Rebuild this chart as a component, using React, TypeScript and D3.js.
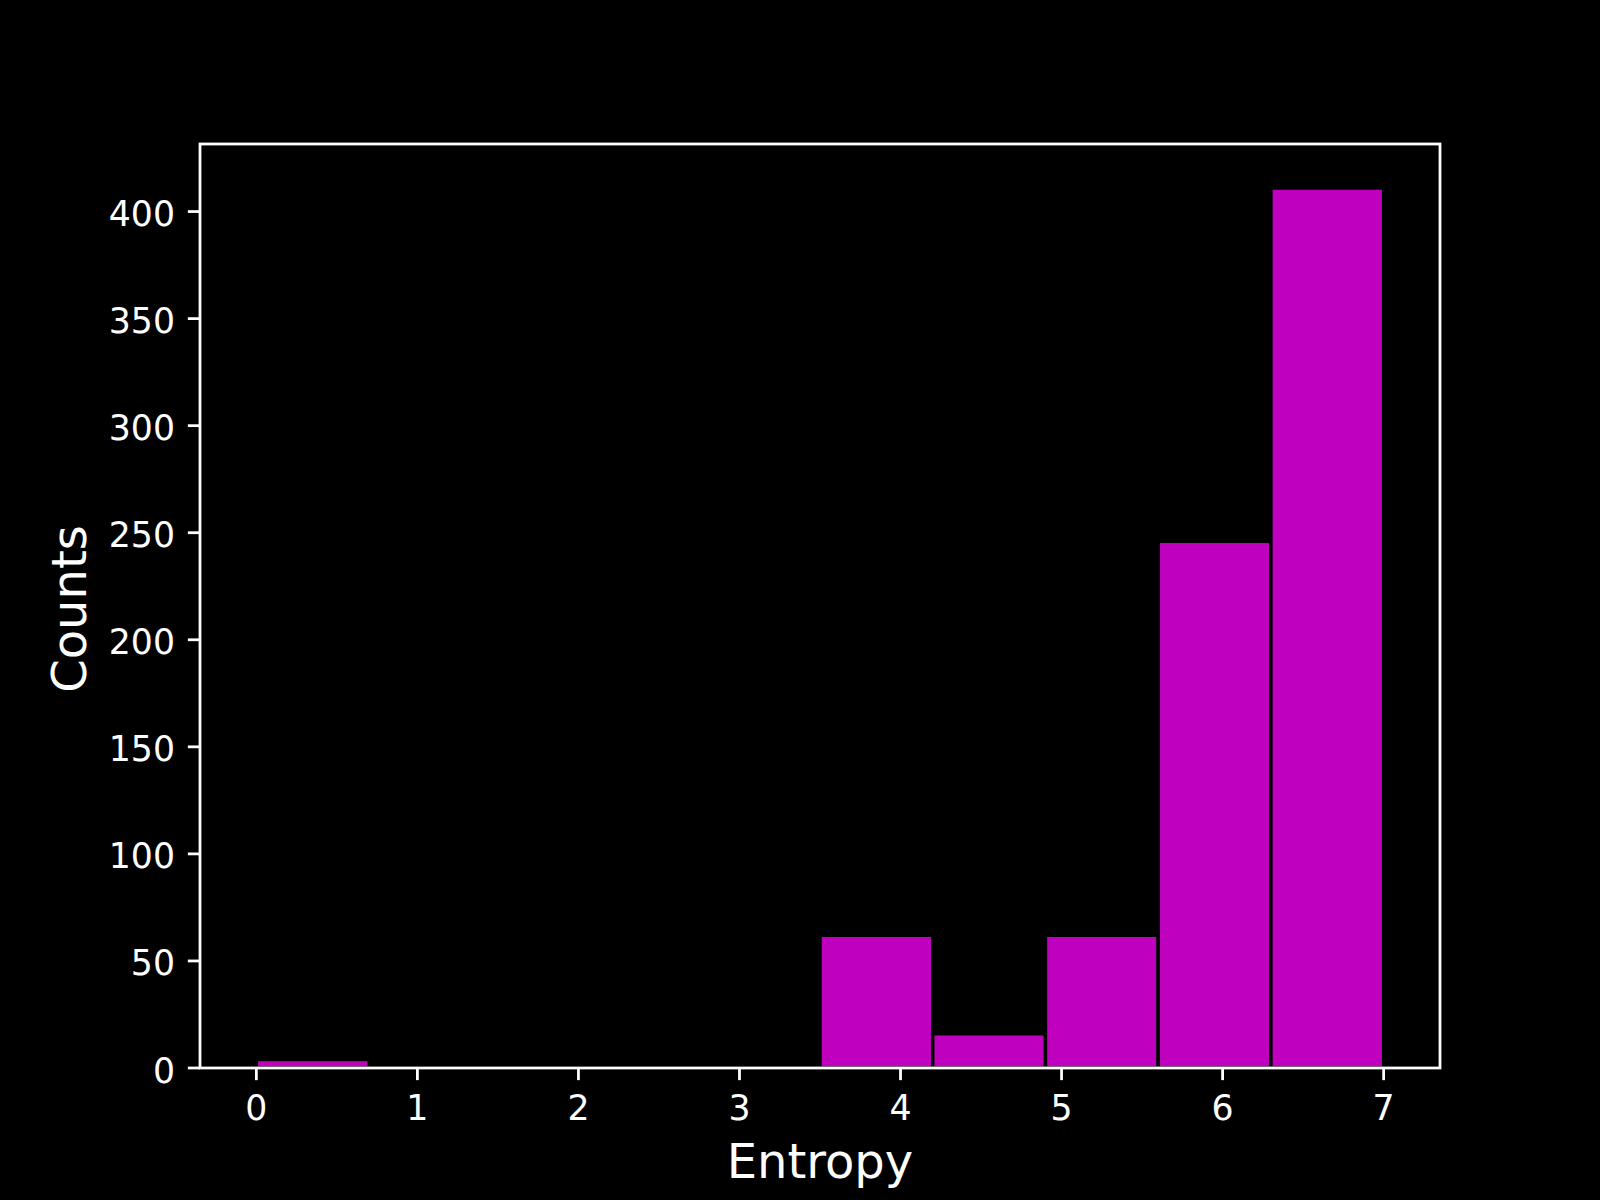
import React from "react";
import * as d3 from "d3";

const binEdgesStart = [0, 0.7, 1.4, 2.1, 2.8, 3.5, 4.2, 4.9, 5.6, 6.3];
const binWidth = 0.7;
const counts = [4, 0, 0, 0, 0, 62, 16, 62, 246, 411];
const xTicks = [0, 1, 2, 3, 4, 5, 6, 7];
const yTicks = [0, 50, 100, 150, 200, 250, 300, 350, 400];
const xLabel = "Entropy";
const yLabel = "Counts";

const W = 1600;
const H = 1200;
const L = 200, R = 1440, T = 144, B = 1068;
const FONT = "DejaVu Sans, sans-serif";
const LW = 2.78;
const TICK = 12.15;

export default function App() {
  const xMin = 0, xMax = 7;
  const xPad = (xMax - xMin) * 0.05;
  const x = d3.scaleLinear().domain([xMin - xPad, xMax + xPad]).range([L, R]);
  const yMax = (d3.max(counts) as number) * 1.05;
  const y = d3.scaleLinear().domain([0, yMax]).range([B, T]);

  return (
    <svg
      width={W}
      height={H}
      style={{ position: "absolute", left: 0, top: 0, background: "#000" }}
    >
      <rect x={0} y={0} width={W} height={H} fill="#000" />
      {binEdgesStart.map((s, i) =>
        counts[i] > 0 ? (
          <rect
            key={i}
            x={x(s)}
            y={y(counts[i])}
            width={x(s + binWidth) - x(s)}
            height={y(0) - y(counts[i])}
            fill="#bf00bf"
            stroke="#000"
            strokeWidth={3.47}
          />
        ) : null
      )}
      {/* spines */}
      <rect x={L} y={T} width={R - L} height={B - T} fill="none" stroke="#fff" strokeWidth={LW} />
      {/* x ticks */}
      {xTicks.map((t) => (
        <g key={t}>
          <line x1={x(t)} x2={x(t)} y1={B} y2={B + TICK} stroke="#fff" strokeWidth={LW} />
          <text
            x={x(t)}
            y={1120}
            fill="#fff"
            fontFamily={FONT}
            fontSize={34.7}
            textAnchor="middle"
          >
            {t}
          </text>
        </g>
      ))}
      {/* y ticks */}
      {yTicks.map((t) => (
        <g key={t}>
          <line x1={L} x2={L - TICK} y1={y(t)} y2={y(t)} stroke="#fff" strokeWidth={LW} />
          <text
            x={L - 25}
            y={y(t) + 14.5}
            fill="#fff"
            fontFamily={FONT}
            fontSize={34.7}
            textAnchor="end"
          >
            {t}
          </text>
        </g>
      ))}
      <text
        x={(L + R) / 2}
        y={1178}
        fill="#fff"
        fontFamily={FONT}
        fontSize={48}
        textAnchor="middle"
      >
        {xLabel}
      </text>
      <text
        transform={`translate(86, ${(T + B) / 2 + 3}) rotate(-90)`}
        fill="#fff"
        fontFamily={FONT}
        fontSize={48}
        textAnchor="middle"
      >
        {yLabel}
      </text>
    </svg>
  );
}
